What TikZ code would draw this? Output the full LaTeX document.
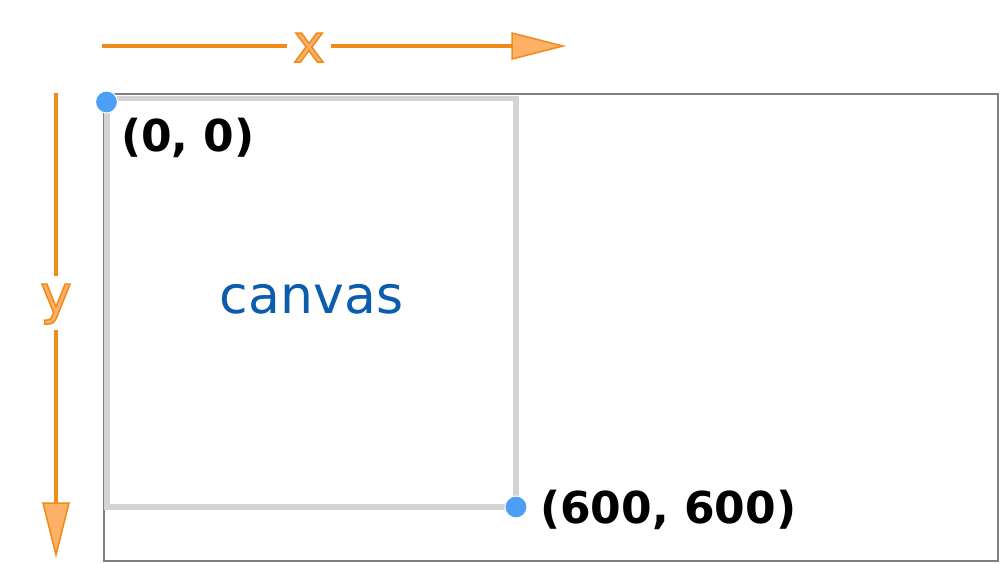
\documentclass[tikz,border=0pt]{standalone}
\usepackage{fontspec}
\setmainfont{DejaVu Sans}
\definecolor{axisorange}{HTML}{F08A1C}
\definecolor{axisfill}{HTML}{FDB066}
\definecolor{dotblue}{HTML}{4D9EF7}
\definecolor{canvasblue}{HTML}{0B5CAD}
\definecolor{framegray}{HTML}{808080}
\definecolor{squaregray}{HTML}{D3D3D3}
\newcommand{\outlinedtext}[1]{\special{pdf:code q 0.941 0.541 0.110 RG 1.5 w 2 Tr}#1\special{pdf:code Q}}
\begin{document}
\begin{tikzpicture}[x=1pt,y=-1pt,
  axisline/.style={draw=axisorange,line width=4pt},
  axishead/.style={draw=axisorange,fill=axisfill,line width=1.5pt,line join=miter},
  axislabel/.style={inner sep=0pt,text=axisfill,font=\fontsize{53}{60}\selectfont},
  coordlabel/.style={inner sep=0pt,anchor=base west,font=\bfseries\fontsize{44}{50}\selectfont},
  dotstyle/.style={circle,fill=dotblue,draw=white,line width=1pt,minimum size=22pt,inner sep=0pt}]
\useasboundingbox[fill=white] (0,0) rectangle (1000,563);
% outer frame
\draw[framegray,line width=1.6pt] (104,94) rectangle (998,561);
% canvas square
\draw[squaregray,line width=5.5pt] (107,98.5) rectangle (516,507);
% dots
\node[dotstyle] (o) at (106.5,102) {};
\node[dotstyle] (e) at (516,507) {};
% labels
\node[coordlabel] (l0) at (121,151) {(0, 0)};
\node[coordlabel] (l6) at (540,523) {(600, 600)};
\node[inner sep=0pt,anchor=base,text=canvasblue,font=\fontsize{52}{60}\selectfont] (cv) at (311.5,313) {canvas};
% x axis
\node[axislabel,anchor=base] (xl) at (309,62) {\outlinedtext{x}};
\coordinate (xs) at (102,46);
\coordinate (xa) at (287,46);
\coordinate (xb) at (331,46);
\coordinate (xe) at (512,46);
\draw[axisline] (xs) -- (xa);
\draw[axisline] (xb) -- (xe);
\draw[axishead] (512,33) -- (563,46) -- (512,59) -- cycle;
% y axis
\node[axislabel,anchor=base] (yl) at (56,313) {\outlinedtext{y}};
\coordinate (ys) at (56,93);
\coordinate (ya) at (56,276);
\coordinate (yb) at (56,330);
\coordinate (ye) at (56,503);
\draw[axisline] (ys) -- (ya);
\draw[axisline] (yb) -- (ye);
\draw[axishead] (43,503) -- (56,555) -- (69,503) -- cycle;
\end{tikzpicture}
\end{document}
